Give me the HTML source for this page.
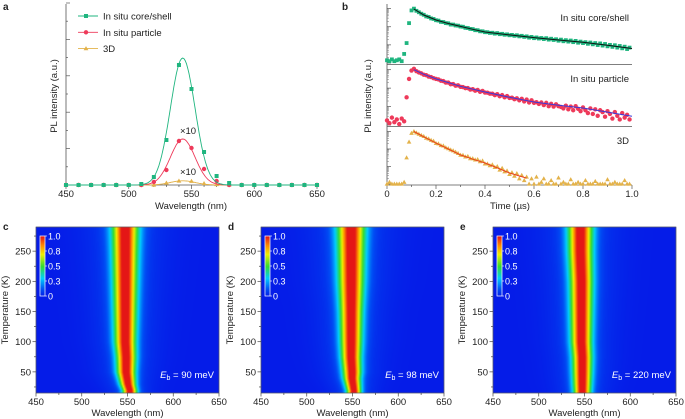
<!DOCTYPE html>
<html><head><meta charset="utf-8">
<style>
html,body{margin:0;padding:0;background:#fff;}
#wrap{position:relative;width:685px;height:419px;overflow:hidden;font-family:"Liberation Sans",Arial,sans-serif;}
canvas{position:absolute;left:0;top:0;}
svg{position:absolute;left:0;top:0;}
text{font-family:"Liberation Sans",Arial,sans-serif;}
</style></head>
<body>
<div id="wrap">
<canvas id="hm" width="685" height="419"></canvas>
<svg id="fig" width="685" height="419" viewBox="0 0 685 419"></svg>
</div>
<script>
// ---------- Panel a data ----------
const aWavelengths=[450,460,470,480,490,500,510,520,530,540,550,560,570,580,590,600,610,620,630,640,650];
const aCoreShell=[0,0,0,0,0,0,1,8,45,120,96,33,9,2,0,0,0,0,0,0,0];
const aParticle=[0,0,0,0,0,0,0,3,15,44,37,16,4,0,0,0,0,0,0,0,0];
const a3D=[0,0,0,0,0,0,0,0,2,4,3.7,1.5,0.5,0,0,0,0,0,0,0,0];
const aFitCenter=[543,543,543];
const aFitAmp=[127,46,4.2];
const aFitSigma=[9.8,9.8,9.8];
const aXTicks=[450,500,550,600,650];
const aLegend=["In situ core/shell","In situ particle","3D"];

// ---------- Panel b data (log10 intensity, t step 0.01 µs) ----------
const bCoreShell=[-2.85,-2.9,-2.8,-2.9,-2.85,-2.8,-2.9,-2.5,-1.9,-0.8,-0.1,0.0,
-0.12,-0.2,-0.28,-0.34,-0.43,-0.46,-0.54,-0.57,-0.64,
-0.66,-0.73,-0.74,-0.8,-0.81,-0.88,-0.88,-0.93,-0.94,-0.99,
-1.0,-1.06,-1.07,-1.12,-1.13,-1.19,-1.19,-1.25,-1.25,-1.3,
-1.3,-1.34,-1.33,-1.38,-1.35,-1.41,-1.39,-1.44,-1.42,-1.47,
-1.45,-1.5,-1.47,-1.53,-1.5,-1.56,-1.53,-1.6,-1.56,-1.63,
-1.59,-1.65,-1.62,-1.68,-1.63,-1.71,-1.66,-1.73,-1.69,-1.77,
-1.71,-1.8,-1.74,-1.82,-1.76,-1.85,-1.78,-1.88,-1.82,-1.9,
-1.85,-1.94,-1.87,-1.97,-1.9,-2.01,-1.92,-2.04,-1.95,-2.08,
-2.0,-2.11,-2.02,-2.15,-2.06,-2.19,-2.1,-2.23,-2.15];
const bParticle=[-2.75,-2.9,-2.6,-2.85,-2.7,-2.95,-2.65,-2.8,-1.5,-0.5,-0.05,0.05,
-0.08,-0.15,-0.2,-0.27,-0.3,-0.37,-0.4,-0.46,-0.5,
-0.53,-0.6,-0.62,-0.7,-0.7,-0.79,-0.78,-0.87,-0.85,-0.93,
-0.94,-1.0,-1.0,-1.08,-1.06,-1.14,-1.1,-1.2,-1.15,-1.24,
-1.25,-1.3,-1.3,-1.38,-1.33,-1.44,-1.38,-1.5,-1.43,-1.53,
-1.52,-1.6,-1.55,-1.66,-1.58,-1.72,-1.62,-1.78,-1.66,-1.8,
-1.76,-1.86,-1.78,-1.92,-1.8,-1.98,-1.85,-2.0,-1.88,-1.98,
-2.02,-2.1,-1.95,-2.15,-2.0,-2.2,-1.98,-2.12,-2.25,-2.05,
-2.2,-2.35,-2.1,-2.4,-2.15,-2.5,-2.2,-2.3,-2.55,-2.25,
-2.4,-2.65,-2.3,-2.5,-2.7,-2.35,-2.6,-2.45,-2.7];
const b3D=[-3,-2.9,-3,-3,-3,-3,-3,-2.9,-1.5,-0.6,-0.1,0.0,
-0.08,-0.15,-0.22,-0.28,-0.38,-0.42,-0.5,-0.55,-0.68,
-0.7,-0.8,-0.82,-0.92,-0.98,-1.05,-1.1,-1.18,-1.25,-1.35,
-1.36,-1.45,-1.42,-1.55,-1.55,-1.62,-1.6,-1.72,-1.68,-1.85,
-1.85,-1.95,-1.9,-2.05,-2.0,-2.2,-2.1,-2.3,-2.25,-2.45,
-2.35,-2.55,-2.4,-2.7,-2.5,-2.8,-2.6,-3,-2.7,-3,
-2.6,-3,-2.9,-2.7,-3,-3,-2.8,-3,-3,-2.65,
-3,-2.9,-3,-3,-2.75,-3,-3,-2.9,-3,-3,
-2.8,-3,-3,-3,-2.85,-3,-3,-3,-3,-2.75,
-3,-3,-2.9,-3,-3,-3,-2.8,-3,-3];
const bFitT1=[0.11,0.15,0.2,0.25,0.3,0.35,0.4,0.5,0.6,0.7,0.8,0.9,1.0];
const bFitCore=[-0.02,-0.35,-0.63,-0.82,-0.98,-1.14,-1.29,-1.45,-1.6,-1.73,-1.86,-2.02,-2.2];
const bFitT2=[0.11,0.15,0.2,0.3,0.4,0.5,0.6,0.7,0.8,0.9,1.0];
const bFitParticle=[0.0,-0.25,-0.5,-0.9,-1.21,-1.5,-1.75,-1.93,-2.08,-2.3,-2.52];
const bFitT3=[0.11,0.15,0.2,0.25,0.3,0.35,0.4,0.45,0.5,0.57];
const bFit3D=[0.0,-0.3,-0.66,-1.0,-1.34,-1.58,-1.8,-2.08,-2.37,-2.66];
const bXTicks=[0,0.2,0.4,0.6,0.8,1.0];
const bLabels=["In situ core/shell","In situ particle","3D"];

// ---------- Heatmap data ----------
const hmTemps=[20,30,40,50,75,100,150,200,250,290];
const hmCenterC=[552,550,549,548,548,547,547,547,547,547];
const hmSigmaC=[5.5,6,6.5,7,7.5,8,8.5,9,9.5,10];
const hmCenterD=[551,550,549,549,548,548,548,548,548,548];
const hmSigmaD=[5.5,6,6.5,7,7.5,8,8.5,9.5,10,10.5];
const hmCenterE=[547,547,547,547,547,546,546,546,545,545];
const hmSigmaE=[6.5,6.8,7,7.2,7.5,7.8,8.2,8.6,9,9.3];
const hmXTicks=[450,500,550,600,650];
const hmYTicks=[50,100,150,200,250];
const cbTicks=[1.0,0.8,0.5,0.3,0];
const ebLabels=["90","98","220"];

const NS="http://www.w3.org/2000/svg";
const svg=document.getElementById('fig');
function el(tag,attrs,parent){const e=document.createElementNS(NS,tag);for(const k in attrs)e.setAttribute(k,attrs[k]);(parent||svg).appendChild(e);return e;}
function txt(x,y,s,attrs,parent){const t=el('text',Object.assign({x:x,y:y,'font-size':9.5,fill:'#222'},attrs||{}),parent);t.textContent=s;return t;}

// ===== Panel a =====
const aX=v=>66+(v-450)/200*251;
const aY=v=>185-v*1.0;
const pa=el('g',{});


let t=txt(3,10,'a',{'font-weight':'bold','font-size':10},pa);

el('line',{x1:66,y1:4,x2:66,y2:185,stroke:'#555','stroke-width':0.8},pa);
el('line',{x1:66,y1:185,x2:317,y2:185,stroke:'#555','stroke-width':0.8},pa);
for(let i=0;i<=10;i++){const y=185-i*18.2;el('line',{x1:66,y1:y,x2:i%2?68:70,y2:y,stroke:'#555','stroke-width':0.7},pa);}
for(let v=450;v<=650;v+=10){el('line',{x1:aX(v),y1:185,x2:aX(v),y2:v%50?187:189,stroke:'#555','stroke-width':0.7},pa);}
aXTicks.forEach(v=>{const tt=txt(aX(v),197,String(v),{'text-anchor':'middle'},pa);});
t=txt(191,209,'Wavelength (nm)',{'text-anchor':'middle'},pa);

t=txt(0,0,'PL intensity (a.u.)',{'text-anchor':'middle',transform:'translate(57,96) rotate(-90)'},pa);

const aColors=['#1fb57f','#ee3a5a','#e3b24a'];
const aSeries=[aCoreShell,aParticle,a3D];
[2,1,0].forEach(si=>{
  const ser=aSeries[si];
  let d='';
  for(let w=450;w<=650;w+=1){const v=aFitAmp[si]*Math.exp(-Math.pow(w-aFitCenter[si],2)/(2*aFitSigma[si]*aFitSigma[si]));d+=(w===450?'M':'L')+aX(w).toFixed(1)+','+aY(v).toFixed(1);}
  const p=el('path',{d:d,fill:'none',stroke:aColors[si],'stroke-width':0.9},pa);
  
  ser.forEach((v,i)=>{
    const x=aX(aWavelengths[i]),y=aY(v);let m;
    if(si===0)m=el('rect',{x:x-2,y:y-2,width:4,height:4,fill:aColors[si]},pa);
    else if(si===1)m=el('circle',{cx:x,cy:y,r:2.2,fill:aColors[si]},pa);
    else m=el('path',{d:`M${x},${y-2.5}L${x+2.4},${y+1.6}L${x-2.4},${y+1.6}Z`,fill:aColors[si]},pa);
    
  });
});
t=txt(188,134,'×10',{'text-anchor':'middle','font-size':9.5},pa);

t=txt(188,175,'×10',{'text-anchor':'middle','font-size':9.5},pa);

aLegend.forEach((s,i)=>{
  const y=16+i*16.3;
  const g=el('g',{},pa);
  
  el('line',{x1:78,y1:y,x2:98,y2:y,stroke:aColors[i],'stroke-width':0.9},g);
  if(i===0)el('rect',{x:84,y:y-2,width:4,height:4,fill:aColors[i]},g);
  else if(i===1)el('circle',{cx:86,cy:y,r:2.2,fill:aColors[i]},g);
  else el('path',{d:`M86,${y-2.5}L88.4,${y+1.6}L83.6,${y+1.6}Z`,fill:aColors[i]},g);
  txt(103,y+3.5,s,{},g);
});

// ===== Panel b =====
const bX=v=>387+v*245;
const bPanels=[{top:5,bot:63},{top:66,bot:125},{top:128,bot:184}];
const pb=el('g',{});


t=txt(342,10,'b',{'font-weight':'bold','font-size':10},pb);

el('line',{x1:387,y1:4,x2:387,y2:185,stroke:'#555','stroke-width':0.8},pb);
el('line',{x1:387,y1:185,x2:632,y2:185,stroke:'#555','stroke-width':0.8},pb);
el('line',{x1:387,y1:64.5,x2:632,y2:64.5,stroke:'#555','stroke-width':0.8},pb);
el('line',{x1:387,y1:126.5,x2:632,y2:126.5,stroke:'#555','stroke-width':0.8},pb);
for(let v=0;v<=1.0001;v+=0.1){el('line',{x1:bX(v),y1:185,x2:bX(v),y2:Math.round(v*10)%2?187:189,stroke:'#555','stroke-width':0.7},pb);}
bXTicks.forEach(v=>{const tt=txt(bX(v),197,v===0?'0':v.toFixed(1),{'text-anchor':'middle'},pb);});
t=txt(510,209,'Time (µs)',{'text-anchor':'middle'},pb);

t=txt(0,0,'PL intensity (a.u.)',{'text-anchor':'middle',transform:'translate(371,96) rotate(-90)'},pb);

const bData=[bCoreShell,bParticle,b3D];
const bFitT=[bFitT1,bFitT2,bFitT3];
const bFits=[bFitCore,bFitParticle,bFit3D];
const bFitCol=['#111','#3a3ad8','#e8401e'];
bPanels.forEach((P,pi)=>{
  const yS=v=>P.top+(0.2-Math.max(v,-3))/3.2*(P.bot-P.top);
  for(let d=0;d>=-3;d-=1){const y=yS(d);el('line',{x1:387,y1:y,x2:391,y2:y,stroke:'#555','stroke-width':0.7},pb);
    for(let k=2;k<10;k++){const yy=yS(d-1+Math.log10(k));if(yy<P.bot)el('line',{x1:387,y1:yy,x2:389,y2:yy,stroke:'#777','stroke-width':0.5},pb);}}
  const g=el('g',{},pb);
  
  bData[pi].forEach((v,i)=>{
    const x=bX(i*0.01),y=yS(v);let m;
    if(pi===0)m=el('rect',{x:x-1.9,y:y-1.9,width:3.8,height:3.8,fill:aColors[0]},g);
    else if(pi===1)m=el('circle',{cx:x,cy:y,r:2.2,fill:aColors[1]},g);
    else m=el('path',{d:`M${x},${y-2.5}L${x+2.3},${y+1.6}L${x-2.3},${y+1.6}Z`,fill:aColors[2]},g);
    
  });
  let d='';bFitT[pi].forEach((tv,i)=>{d+=(i?'L':'M')+bX(tv).toFixed(1)+','+yS(bFits[pi][i]).toFixed(1);});
  const p=el('path',{d:d,fill:'none',stroke:bFitCol[pi],'stroke-width':1},pb);
  
  const lt=txt(629,P.top+16,bLabels[pi],{'text-anchor':'end'},pb);
  
});

// ===== Heatmaps =====
const ctx=document.getElementById('hm').getContext('2d');
function jet(v){
  const st=[[0,[5,28,232]],[0.12,[0,80,245]],[0.3,[0,205,255]],[0.5,[50,220,50]],[0.7,[240,240,0]],[0.85,[255,140,0]],[1,[228,22,22]]];
  v=Math.max(0,Math.min(1,v));
  for(let i=1;i<st.length;i++){if(v<=st[i][0]){const a=st[i-1],b=st[i],f=(v-a[0])/(b[0]-a[0]);return a[1].map((c,k)=>Math.round(c+(b[1][k]-c)*f));}}
  return st[st.length-1][1];
}
function interp(arr,T){
  if(T<=hmTemps[0])return arr[0];
  for(let i=1;i<hmTemps.length;i++){if(T<=hmTemps[i]){const f=(T-hmTemps[i-1])/(hmTemps[i]-hmTemps[i-1]);return arr[i-1]+(arr[i]-arr[i-1])*f;}}
  return arr[arr.length-1];
}
const HT=227,HB=393;
const hY=T=>HT+(290-T)/(290-15)*(HB-HT);
const panels=[{x0:36,lab:'c',cen:hmCenterC,sig:hmSigmaC},{x0:261,lab:'d',cen:hmCenterD,sig:hmSigmaD},{x0:493,lab:'e',cen:hmCenterE,sig:hmSigmaE}];
const HW=183;
panels.forEach((P,pi)=>{
  const img=ctx.createImageData(HW,HB-HT);
  for(let py=0;py<HB-HT;py++){
    const T=290-py/(HB-HT)*(290-15);
    const c=interp(P.cen,T),s=interp(P.sig,T);
    for(let px=0;px<HW;px++){
      const w=450+px/HW*200;
      const v=Math.exp(-Math.pow(w-c,2)/(2*s*s))+0.08*Math.exp(-Math.pow(w-c,2)/(2*(3*s)*(3*s)));
      const col=jet(v);const o=(py*HW+px)*4;
      img.data[o]=col[0];img.data[o+1]=col[1];img.data[o+2]=col[2];img.data[o+3]=255;
    }
  }
  ctx.putImageData(img,P.x0,HT);
  const cbx=P.x0+4,cbt=236,cbb=296;
  for(let y=cbt;y<cbb;y++){const col=jet(1-(y-cbt)/(cbb-cbt));ctx.fillStyle=`rgb(${col[0]},${col[1]},${col[2]})`;ctx.fillRect(cbx,y,5,1);}
  const g=el('g',{});
  
  
  const hX=v=>P.x0+(v-450)/200*HW;
  let tt=txt(P.x0-33,230,P.lab,{'font-weight':'bold','font-size':10},g);
  
  el('rect',{x:P.x0,y:HT,width:HW,height:HB-HT,fill:'none',stroke:'#444','stroke-width':0.6},g);
  el('rect',{x:cbx,y:cbt,width:5,height:cbb-cbt,fill:'none',stroke:'#fff','stroke-width':0.7},g);
  cbTicks.forEach((v,i)=>{const yy=cbt+i*(cbb-cbt)/4;
    el('line',{x1:cbx+5,y1:yy,x2:cbx+7,y2:yy,stroke:'#fff','stroke-width':0.6},g);
    const l=txt(cbx+8,yy+3.5,v===0?'0':v.toFixed(1),{fill:'#fff','font-size':9},g);
    });
  for(let v=450;v<=650;v+=25){el('line',{x1:hX(v),y1:HB,x2:hX(v),y2:v%50?HB+2:HB+3.5,stroke:'#444','stroke-width':0.7},g);}
  hmXTicks.forEach(v=>{const l=txt(hX(v),405,String(v),{'text-anchor':'middle'},g);});
  for(let T=25;T<=275;T+=25){const y=hY(T);el('line',{x1:P.x0,y1:y,x2:P.x0-(T%50?2:3.5),y2:y,stroke:'#444','stroke-width':0.7},g);}
  hmYTicks.forEach(T=>{const l=txt(P.x0-5,hY(T)+3.5,String(T),{'text-anchor':'end'},g);});
  tt=txt(P.x0+HW/2,416,'Wavelength (nm)',{'text-anchor':'middle'},g);
  
  tt=txt(0,0,'Temperature (K)',{'text-anchor':'middle',transform:`translate(${P.x0-28},310) rotate(-90)`},g);
  
  const eb=el('text',{x:P.x0+HW-5,y:378,'text-anchor':'end','font-size':9.5,fill:'#fff'},g);
  
  const s1=el('tspan',{'font-style':'italic'},eb);s1.textContent='E';
  const s2=el('tspan',{'font-size':7,dy:2},eb);s2.textContent='b';
  const s3=el('tspan',{dy:-2},eb);s3.textContent=' = '+ebLabels[pi]+' meV';
});
</script>
</body></html>
